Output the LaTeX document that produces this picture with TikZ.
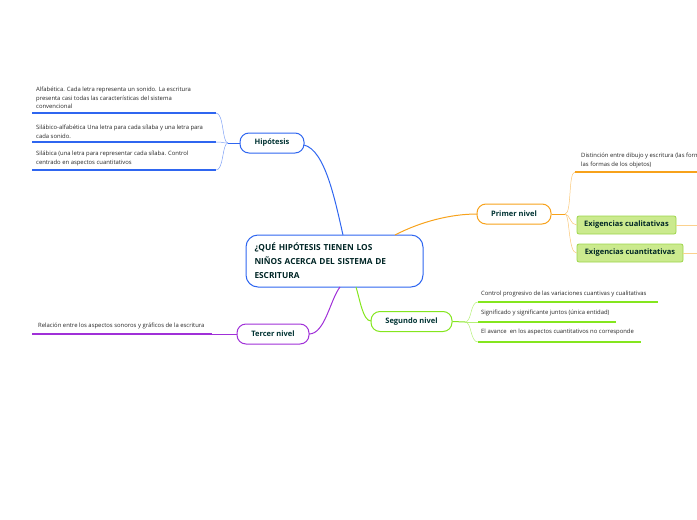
\documentclass[tikz,border=0pt]{standalone}
\usepackage{fontspec}
\setmainfont{Open Sans}
\begin{document}
\begin{tikzpicture}[x=1pt,y=-1pt,
  leaf/.style={font=\fontsize{5.9}{8.3}\selectfont,anchor=north west,align=left,inner sep=0pt,text=black!85},
  main/.style={draw,rounded corners=9pt,line width=1pt,font=\bfseries\fontsize{7.5}{9}\selectfont,text=teal!40!black,fill=white,minimum height=20pt,inner sep=3pt},
  exi/.style={draw=exb,fill=exf,rounded corners=2pt,line width=0.8pt,font=\bfseries\fontsize{7.5}{9}\selectfont,text=teal!30!black,minimum height=18pt,inner xsep=4pt}]
\definecolor{cb}{HTML}{2F66F0}\definecolor{co}{HTML}{F7A21B}\definecolor{cg}{HTML}{84E61E}\definecolor{cp}{HTML}{A030D8}
\definecolor{exf}{HTML}{CBEA8E}\definecolor{exb}{HTML}{9DD64A}
\useasboundingbox (0,0) rectangle (697,520);
\node[draw=cb,line width=1pt,rounded corners=12pt,minimum width=177pt,minimum height=52pt,fill=white,
  font=\bfseries\fontsize{8.3}{14}\selectfont,text=teal!30!black,align=left,text width=160pt] (c) at (334.5,261)
  {¿QUÉ HIPÓTESIS TIENEN LOS\\NIÑOS ACERCA DEL SISTEMA DE\\ESCRITURA};
\node[main,draw=cb,minimum width=64pt] (h) at (272,143) {Hipótesis};
\node[main,draw=co,minimum width=74pt] (p) at (514,214) {Primer nivel};
\node[main,draw=cg,minimum width=81pt] (s) at (411.5,321.5) {Segundo nivel};
\node[main,draw=cp,minimum width=72pt] (t) at (273,334) {Tercer nivel};
\draw[cb,line width=1pt] (304,145) .. controls (325,150) and (335,200) .. (343,235);
\draw[co,line width=1pt] (395,235) .. controls (420,222) and (450,214) .. (477,214);
\draw[cg,line width=1pt] (356,287) .. controls (360,300) and (363,321) .. (371,321);
\draw[cp,line width=1pt] (340,287) .. controls (330,300) and (325,334) .. (309,334);
\foreach \y/\txt in {87/{Alfabética. Cada letra representa un sonido. La escritura\\presenta casi todas las características del sistema\\convencional},
  125/{Silábico-alfabética Una letra para cada sílaba y una letra para\\cada sonido.},
  151/{Silábica (una letra para representar cada sílaba. Control\\centrado en aspectos cuantitativos}}
  \node[leaf] at (36,\y) {\txt};
\coordinate (hj) at (228,143);
\draw[cb,line width=0.5pt] (h.west) -- (hj);
\foreach \y in {113,142,170}{
  \draw[cb,line width=1.2pt] (32,\y) -- (216,\y);
  \draw[cb!60,line width=0.5pt] (hj) .. controls (222,143) and (224,\y) .. (216,\y);}
\node[leaf] at (581,153) {Distinción entre dibujo y escritura (las formas\\las formas de los objetos)};
\coordinate (pj) at (565,214);
\draw[co,line width=1pt] (p.east) -- (pj);
\draw[co,line width=1.2pt] (575,172) -- (697,172);
\draw[co!60,line width=0.5pt] (pj) .. controls (572,214) and (568,172) .. (575,172);
\node[exi,minimum width=99pt] (e1) at (626.5,225) {Exigencias cualitativas};
\node[exi,minimum width=106pt] (e2) at (630,253) {Exigencias cuantitativas};
\draw[co!60,line width=0.5pt] (pj) .. controls (570,214) and (570,225) .. (e1.west);
\draw[co!60,line width=0.5pt] (pj) .. controls (570,214) and (568,253) .. (e2.west);
\draw[co!50,line width=1pt] (e1.east) -- (697,225);
\draw[co!50,line width=1pt] (e2.east) -- (697,253);
\node[leaf] at (481,291) {Control progresivo de las variaciones cuantivas y cualitativas};
\node[leaf] at (481,310) {Significado y significante juntos (única entidad)};
\node[leaf] at (481,329) {El avance \ en los aspectos cuantitativos no corresponde};
\coordinate (sj) at (465,322);
\draw[cg,line width=1pt] (s.east) -- (sj);
\draw[cg,line width=1.2pt] (478,302) -- (658,302);
\draw[cg,line width=1.2pt] (478,322) -- (616,322);
\draw[cg,line width=1.2pt] (478,342) -- (641,342);
\draw[cg!60,line width=0.5pt] (sj) .. controls (472,322) and (470,302) .. (478,302);
\draw[cg!60,line width=0.5pt] (sj) -- (478,322);
\draw[cg!60,line width=0.5pt] (sj) .. controls (472,322) and (470,342) .. (478,342);
\node[leaf] at (38,323) {Relación entre los aspectos sonoros y gráficos de la escritura};
\draw[cp,line width=1.2pt] (32,334) -- (212,334);
\draw[cp,line width=0.8pt] (t.west) -- (212,334);
\end{tikzpicture}
\end{document}
